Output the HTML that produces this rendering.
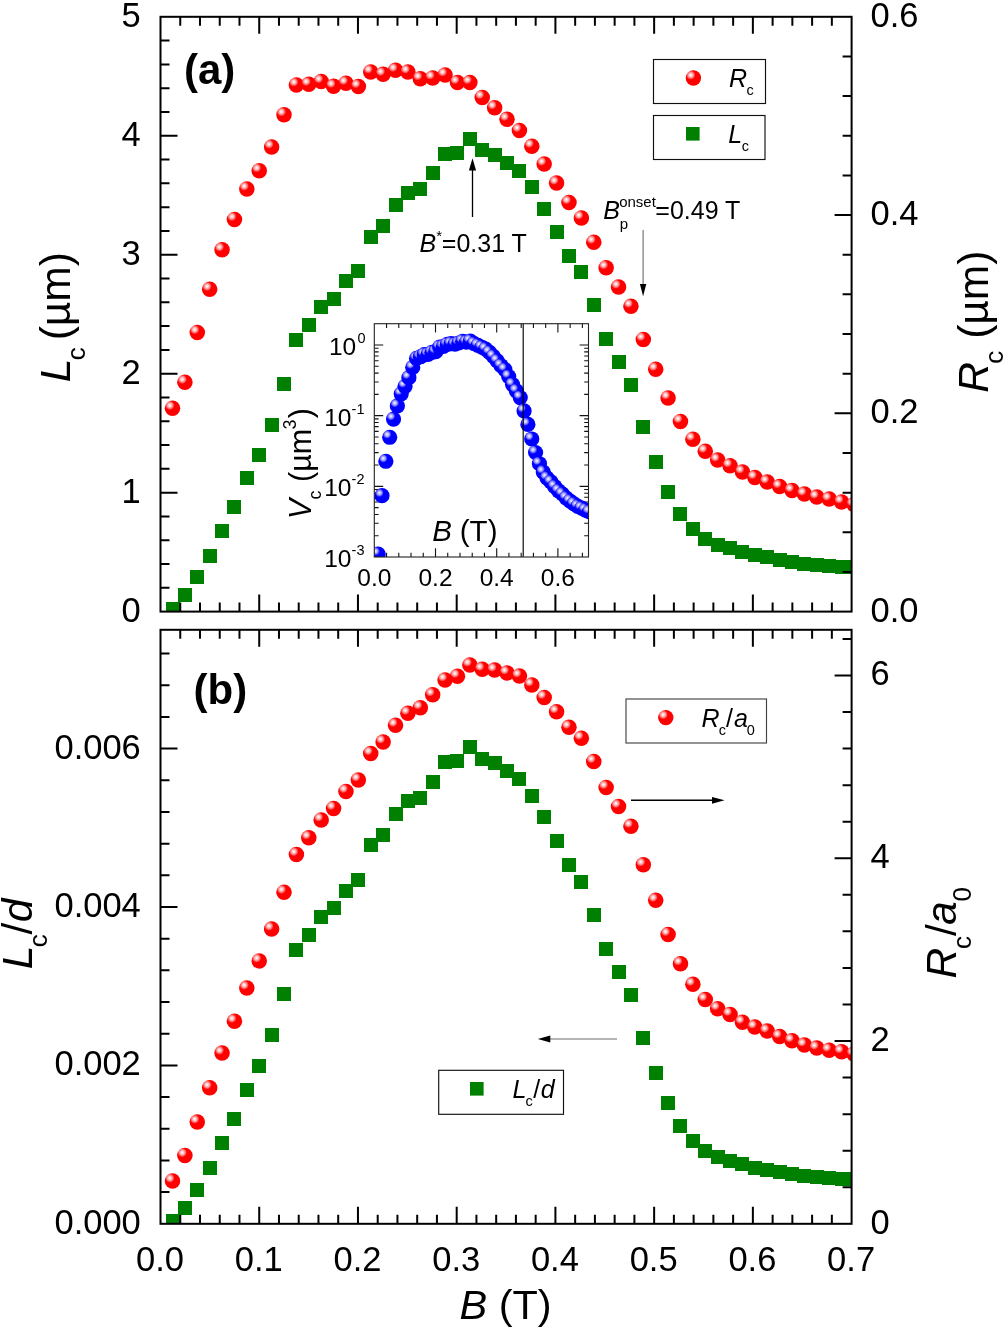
<!DOCTYPE html><html><head><meta charset="utf-8"><style>
html,body{margin:0;padding:0;background:#fff;width:1004px;height:1329px;overflow:hidden}
svg{display:block;will-change:transform}
text{font-family:"Liberation Sans", sans-serif;fill:#000}
</style></head><body>
<svg width="1004" height="1329" viewBox="0 0 1004 1329">
<defs>
<radialGradient id="gr" cx="0.33" cy="0.31" r="0.44">
<stop offset="0" stop-color="#fff"/><stop offset="0.08" stop-color="#fff2f2"/><stop offset="0.3" stop-color="#ffb4b4"/><stop offset="0.5" stop-color="#ff6464"/><stop offset="0.68" stop-color="#ff0000"/><stop offset="1" stop-color="#f00"/>
</radialGradient>
<radialGradient id="gb" cx="0.33" cy="0.31" r="0.44">
<stop offset="0" stop-color="#f4f4ff"/><stop offset="0.12" stop-color="#dcdcff"/><stop offset="0.38" stop-color="#8a8aff"/><stop offset="0.64" stop-color="#0000ff"/><stop offset="1" stop-color="#00f"/>
</radialGradient>
<clipPath id="clipA"><rect x="160.5" y="16.8" width="691.1" height="594.8000000000001"/></clipPath>
<clipPath id="clipB"><rect x="160.5" y="629.8" width="691.1" height="594.0"/></clipPath>
<clipPath id="clipI"><rect x="374.3" y="323.8" width="214.2" height="233.2"/></clipPath>
</defs>
<rect width="1004" height="1329" fill="#fff"/>

<g clip-path="url(#clipA)">
<rect x="166" y="602" width="14" height="14" fill="#008000"/>
<rect x="178" y="588" width="14" height="14" fill="#008000"/>
<rect x="190" y="570" width="14" height="14" fill="#008000"/>
<rect x="203" y="549" width="14" height="14" fill="#008000"/>
<rect x="215" y="524" width="14" height="14" fill="#008000"/>
<rect x="227" y="500" width="14" height="14" fill="#008000"/>
<rect x="240" y="471" width="14" height="14" fill="#008000"/>
<rect x="252" y="448" width="14" height="14" fill="#008000"/>
<rect x="265" y="418" width="14" height="14" fill="#008000"/>
<rect x="277" y="377" width="14" height="14" fill="#008000"/>
<rect x="289" y="333" width="14" height="14" fill="#008000"/>
<rect x="302" y="318" width="14" height="14" fill="#008000"/>
<rect x="314" y="300" width="14" height="14" fill="#008000"/>
<rect x="327" y="292" width="14" height="14" fill="#008000"/>
<rect x="339" y="274" width="14" height="14" fill="#008000"/>
<rect x="351" y="264" width="14" height="14" fill="#008000"/>
<rect x="364" y="230" width="14" height="14" fill="#008000"/>
<rect x="376" y="219" width="14" height="14" fill="#008000"/>
<rect x="389" y="198" width="14" height="14" fill="#008000"/>
<rect x="401" y="186" width="14" height="14" fill="#008000"/>
<rect x="413" y="182" width="14" height="14" fill="#008000"/>
<rect x="426" y="166" width="14" height="14" fill="#008000"/>
<rect x="438" y="147" width="14" height="14" fill="#008000"/>
<rect x="450" y="146" width="14" height="14" fill="#008000"/>
<rect x="463" y="132" width="14" height="14" fill="#008000"/>
<rect x="475" y="143" width="14" height="14" fill="#008000"/>
<rect x="488" y="148" width="14" height="14" fill="#008000"/>
<rect x="500" y="156" width="14" height="14" fill="#008000"/>
<rect x="512" y="164" width="14" height="14" fill="#008000"/>
<rect x="525" y="180" width="14" height="14" fill="#008000"/>
<rect x="537" y="202" width="14" height="14" fill="#008000"/>
<rect x="550" y="225" width="14" height="14" fill="#008000"/>
<rect x="562" y="249" width="14" height="14" fill="#008000"/>
<rect x="574" y="265" width="14" height="14" fill="#008000"/>
<rect x="587" y="298" width="14" height="14" fill="#008000"/>
<rect x="599" y="332" width="14" height="14" fill="#008000"/>
<rect x="612" y="355" width="14" height="14" fill="#008000"/>
<rect x="624" y="378" width="14" height="14" fill="#008000"/>
<rect x="636" y="420" width="14" height="14" fill="#008000"/>
<rect x="649" y="455" width="14" height="14" fill="#008000"/>
<rect x="661" y="485" width="14" height="14" fill="#008000"/>
<rect x="673" y="507" width="14" height="14" fill="#008000"/>
<rect x="686" y="522" width="14" height="14" fill="#008000"/>
<rect x="698" y="532" width="14" height="14" fill="#008000"/>
<rect x="711" y="538" width="14" height="14" fill="#008000"/>
<rect x="723" y="541" width="14" height="14" fill="#008000"/>
<rect x="735" y="545" width="14" height="14" fill="#008000"/>
<rect x="748" y="548" width="14" height="14" fill="#008000"/>
<rect x="760" y="550" width="14" height="14" fill="#008000"/>
<rect x="773" y="553" width="14" height="14" fill="#008000"/>
<rect x="785" y="555" width="14" height="14" fill="#008000"/>
<rect x="797" y="557" width="14" height="14" fill="#008000"/>
<rect x="810" y="558" width="14" height="14" fill="#008000"/>
<rect x="822" y="559" width="14" height="14" fill="#008000"/>
<rect x="835" y="560" width="14" height="14" fill="#008000"/>
<rect x="847" y="560" width="14" height="14" fill="#008000"/>
<circle cx="172.50" cy="408.30" r="7.75" fill="url(#gr)"/>
<circle cx="184.89" cy="382.30" r="7.75" fill="url(#gr)"/>
<circle cx="197.28" cy="332.50" r="7.75" fill="url(#gr)"/>
<circle cx="209.67" cy="289.30" r="7.75" fill="url(#gr)"/>
<circle cx="222.06" cy="249.80" r="7.75" fill="url(#gr)"/>
<circle cx="234.45" cy="219.40" r="7.75" fill="url(#gr)"/>
<circle cx="246.84" cy="189.00" r="7.75" fill="url(#gr)"/>
<circle cx="259.23" cy="170.70" r="7.75" fill="url(#gr)"/>
<circle cx="271.62" cy="147.00" r="7.75" fill="url(#gr)"/>
<circle cx="284.01" cy="114.70" r="7.75" fill="url(#gr)"/>
<circle cx="296.40" cy="84.90" r="7.75" fill="url(#gr)"/>
<circle cx="308.79" cy="84.30" r="7.75" fill="url(#gr)"/>
<circle cx="321.18" cy="81.50" r="7.75" fill="url(#gr)"/>
<circle cx="333.57" cy="86.30" r="7.75" fill="url(#gr)"/>
<circle cx="345.96" cy="83.30" r="7.75" fill="url(#gr)"/>
<circle cx="358.35" cy="86.50" r="7.75" fill="url(#gr)"/>
<circle cx="370.74" cy="71.90" r="7.75" fill="url(#gr)"/>
<circle cx="383.13" cy="74.30" r="7.75" fill="url(#gr)"/>
<circle cx="395.52" cy="70.30" r="7.75" fill="url(#gr)"/>
<circle cx="407.91" cy="71.90" r="7.75" fill="url(#gr)"/>
<circle cx="420.30" cy="78.70" r="7.75" fill="url(#gr)"/>
<circle cx="432.69" cy="77.90" r="7.75" fill="url(#gr)"/>
<circle cx="445.08" cy="74.90" r="7.75" fill="url(#gr)"/>
<circle cx="457.47" cy="82.50" r="7.75" fill="url(#gr)"/>
<circle cx="469.86" cy="82.50" r="7.75" fill="url(#gr)"/>
<circle cx="482.25" cy="97.40" r="7.75" fill="url(#gr)"/>
<circle cx="494.64" cy="107.80" r="7.75" fill="url(#gr)"/>
<circle cx="507.03" cy="119.30" r="7.75" fill="url(#gr)"/>
<circle cx="519.42" cy="130.50" r="7.75" fill="url(#gr)"/>
<circle cx="531.81" cy="146.20" r="7.75" fill="url(#gr)"/>
<circle cx="544.20" cy="164.10" r="7.75" fill="url(#gr)"/>
<circle cx="556.59" cy="183.10" r="7.75" fill="url(#gr)"/>
<circle cx="568.98" cy="202.60" r="7.75" fill="url(#gr)"/>
<circle cx="581.37" cy="217.90" r="7.75" fill="url(#gr)"/>
<circle cx="593.76" cy="242.20" r="7.75" fill="url(#gr)"/>
<circle cx="606.15" cy="267.70" r="7.75" fill="url(#gr)"/>
<circle cx="618.54" cy="287.00" r="7.75" fill="url(#gr)"/>
<circle cx="630.93" cy="306.20" r="7.75" fill="url(#gr)"/>
<circle cx="643.32" cy="339.40" r="7.75" fill="url(#gr)"/>
<circle cx="655.71" cy="369.30" r="7.75" fill="url(#gr)"/>
<circle cx="668.10" cy="397.90" r="7.75" fill="url(#gr)"/>
<circle cx="680.49" cy="421.40" r="7.75" fill="url(#gr)"/>
<circle cx="692.88" cy="439.20" r="7.75" fill="url(#gr)"/>
<circle cx="705.27" cy="451.30" r="7.75" fill="url(#gr)"/>
<circle cx="717.66" cy="460.10" r="7.75" fill="url(#gr)"/>
<circle cx="730.05" cy="465.70" r="7.75" fill="url(#gr)"/>
<circle cx="742.44" cy="472.00" r="7.75" fill="url(#gr)"/>
<circle cx="754.83" cy="477.60" r="7.75" fill="url(#gr)"/>
<circle cx="767.22" cy="482.00" r="7.75" fill="url(#gr)"/>
<circle cx="779.61" cy="486.60" r="7.75" fill="url(#gr)"/>
<circle cx="792.00" cy="490.60" r="7.75" fill="url(#gr)"/>
<circle cx="804.39" cy="494.10" r="7.75" fill="url(#gr)"/>
<circle cx="816.78" cy="497.10" r="7.75" fill="url(#gr)"/>
<circle cx="829.17" cy="499.10" r="7.75" fill="url(#gr)"/>
<circle cx="841.56" cy="501.90" r="7.75" fill="url(#gr)"/>
<circle cx="853.95" cy="504.50" r="7.75" fill="url(#gr)"/>
</g>
<g clip-path="url(#clipB)">
<rect x="166" y="1214" width="14" height="14" fill="#008000"/>
<rect x="178" y="1201" width="14" height="14" fill="#008000"/>
<rect x="190" y="1183" width="14" height="14" fill="#008000"/>
<rect x="203" y="1161" width="14" height="14" fill="#008000"/>
<rect x="215" y="1136" width="14" height="14" fill="#008000"/>
<rect x="227" y="1112" width="14" height="14" fill="#008000"/>
<rect x="240" y="1083" width="14" height="14" fill="#008000"/>
<rect x="252" y="1059" width="14" height="14" fill="#008000"/>
<rect x="265" y="1028" width="14" height="14" fill="#008000"/>
<rect x="277" y="987" width="14" height="14" fill="#008000"/>
<rect x="289" y="943" width="14" height="14" fill="#008000"/>
<rect x="302" y="928" width="14" height="14" fill="#008000"/>
<rect x="314" y="910" width="14" height="14" fill="#008000"/>
<rect x="327" y="901" width="14" height="14" fill="#008000"/>
<rect x="339" y="884" width="14" height="14" fill="#008000"/>
<rect x="351" y="873" width="14" height="14" fill="#008000"/>
<rect x="364" y="838" width="14" height="14" fill="#008000"/>
<rect x="376" y="828" width="14" height="14" fill="#008000"/>
<rect x="389" y="807" width="14" height="14" fill="#008000"/>
<rect x="401" y="794" width="14" height="14" fill="#008000"/>
<rect x="413" y="791" width="14" height="14" fill="#008000"/>
<rect x="426" y="775" width="14" height="14" fill="#008000"/>
<rect x="438" y="755" width="14" height="14" fill="#008000"/>
<rect x="450" y="754" width="14" height="14" fill="#008000"/>
<rect x="463" y="740" width="14" height="14" fill="#008000"/>
<rect x="475" y="752" width="14" height="14" fill="#008000"/>
<rect x="488" y="756" width="14" height="14" fill="#008000"/>
<rect x="500" y="764" width="14" height="14" fill="#008000"/>
<rect x="512" y="772" width="14" height="14" fill="#008000"/>
<rect x="525" y="789" width="14" height="14" fill="#008000"/>
<rect x="537" y="810" width="14" height="14" fill="#008000"/>
<rect x="550" y="834" width="14" height="14" fill="#008000"/>
<rect x="562" y="858" width="14" height="14" fill="#008000"/>
<rect x="574" y="875" width="14" height="14" fill="#008000"/>
<rect x="587" y="908" width="14" height="14" fill="#008000"/>
<rect x="599" y="942" width="14" height="14" fill="#008000"/>
<rect x="612" y="965" width="14" height="14" fill="#008000"/>
<rect x="624" y="988" width="14" height="14" fill="#008000"/>
<rect x="636" y="1031" width="14" height="14" fill="#008000"/>
<rect x="649" y="1066" width="14" height="14" fill="#008000"/>
<rect x="661" y="1096" width="14" height="14" fill="#008000"/>
<rect x="673" y="1119" width="14" height="14" fill="#008000"/>
<rect x="686" y="1134" width="14" height="14" fill="#008000"/>
<rect x="698" y="1144" width="14" height="14" fill="#008000"/>
<rect x="711" y="1150" width="14" height="14" fill="#008000"/>
<rect x="723" y="1154" width="14" height="14" fill="#008000"/>
<rect x="735" y="1157" width="14" height="14" fill="#008000"/>
<rect x="748" y="1161" width="14" height="14" fill="#008000"/>
<rect x="760" y="1163" width="14" height="14" fill="#008000"/>
<rect x="773" y="1165" width="14" height="14" fill="#008000"/>
<rect x="785" y="1167" width="14" height="14" fill="#008000"/>
<rect x="797" y="1169" width="14" height="14" fill="#008000"/>
<rect x="810" y="1170" width="14" height="14" fill="#008000"/>
<rect x="822" y="1171" width="14" height="14" fill="#008000"/>
<rect x="835" y="1172" width="14" height="14" fill="#008000"/>
<rect x="847" y="1172" width="14" height="14" fill="#008000"/>
<circle cx="172.50" cy="1181.00" r="7.75" fill="url(#gr)"/>
<circle cx="184.89" cy="1155.50" r="7.75" fill="url(#gr)"/>
<circle cx="197.28" cy="1122.00" r="7.75" fill="url(#gr)"/>
<circle cx="209.67" cy="1087.70" r="7.75" fill="url(#gr)"/>
<circle cx="222.06" cy="1053.10" r="7.75" fill="url(#gr)"/>
<circle cx="234.45" cy="1021.20" r="7.75" fill="url(#gr)"/>
<circle cx="246.84" cy="988.00" r="7.75" fill="url(#gr)"/>
<circle cx="259.23" cy="960.90" r="7.75" fill="url(#gr)"/>
<circle cx="271.62" cy="929.00" r="7.75" fill="url(#gr)"/>
<circle cx="284.01" cy="892.20" r="7.75" fill="url(#gr)"/>
<circle cx="296.40" cy="854.50" r="7.75" fill="url(#gr)"/>
<circle cx="308.79" cy="837.80" r="7.75" fill="url(#gr)"/>
<circle cx="321.18" cy="819.90" r="7.75" fill="url(#gr)"/>
<circle cx="333.57" cy="808.40" r="7.75" fill="url(#gr)"/>
<circle cx="345.96" cy="791.40" r="7.75" fill="url(#gr)"/>
<circle cx="358.35" cy="779.90" r="7.75" fill="url(#gr)"/>
<circle cx="370.74" cy="753.60" r="7.75" fill="url(#gr)"/>
<circle cx="383.13" cy="742.00" r="7.75" fill="url(#gr)"/>
<circle cx="395.52" cy="725.30" r="7.75" fill="url(#gr)"/>
<circle cx="407.91" cy="713.30" r="7.75" fill="url(#gr)"/>
<circle cx="420.30" cy="707.80" r="7.75" fill="url(#gr)"/>
<circle cx="432.69" cy="694.80" r="7.75" fill="url(#gr)"/>
<circle cx="445.08" cy="679.90" r="7.75" fill="url(#gr)"/>
<circle cx="457.47" cy="676.30" r="7.75" fill="url(#gr)"/>
<circle cx="469.86" cy="665.00" r="7.75" fill="url(#gr)"/>
<circle cx="482.25" cy="669.30" r="7.75" fill="url(#gr)"/>
<circle cx="494.64" cy="670.10" r="7.75" fill="url(#gr)"/>
<circle cx="507.03" cy="672.90" r="7.75" fill="url(#gr)"/>
<circle cx="519.42" cy="675.90" r="7.75" fill="url(#gr)"/>
<circle cx="531.81" cy="684.90" r="7.75" fill="url(#gr)"/>
<circle cx="544.20" cy="697.40" r="7.75" fill="url(#gr)"/>
<circle cx="556.59" cy="711.80" r="7.75" fill="url(#gr)"/>
<circle cx="568.98" cy="727.30" r="7.75" fill="url(#gr)"/>
<circle cx="581.37" cy="738.20" r="7.75" fill="url(#gr)"/>
<circle cx="593.76" cy="761.60" r="7.75" fill="url(#gr)"/>
<circle cx="606.15" cy="787.50" r="7.75" fill="url(#gr)"/>
<circle cx="618.54" cy="806.40" r="7.75" fill="url(#gr)"/>
<circle cx="630.93" cy="826.30" r="7.75" fill="url(#gr)"/>
<circle cx="643.32" cy="864.80" r="7.75" fill="url(#gr)"/>
<circle cx="655.71" cy="900.30" r="7.75" fill="url(#gr)"/>
<circle cx="668.10" cy="934.50" r="7.75" fill="url(#gr)"/>
<circle cx="680.49" cy="963.80" r="7.75" fill="url(#gr)"/>
<circle cx="692.88" cy="984.30" r="7.75" fill="url(#gr)"/>
<circle cx="705.27" cy="999.60" r="7.75" fill="url(#gr)"/>
<circle cx="717.66" cy="1008.70" r="7.75" fill="url(#gr)"/>
<circle cx="730.05" cy="1014.40" r="7.75" fill="url(#gr)"/>
<circle cx="742.44" cy="1022.30" r="7.75" fill="url(#gr)"/>
<circle cx="754.83" cy="1027.10" r="7.75" fill="url(#gr)"/>
<circle cx="767.22" cy="1031.10" r="7.75" fill="url(#gr)"/>
<circle cx="779.61" cy="1036.60" r="7.75" fill="url(#gr)"/>
<circle cx="792.00" cy="1040.70" r="7.75" fill="url(#gr)"/>
<circle cx="804.39" cy="1045.00" r="7.75" fill="url(#gr)"/>
<circle cx="816.78" cy="1048.10" r="7.75" fill="url(#gr)"/>
<circle cx="829.17" cy="1050.20" r="7.75" fill="url(#gr)"/>
<circle cx="841.56" cy="1051.70" r="7.75" fill="url(#gr)"/>
<circle cx="853.95" cy="1054.00" r="7.75" fill="url(#gr)"/>
</g>
<rect x="160.50" y="16.80" width="691.10" height="594.80" fill="none" stroke="#000" stroke-width="2"/>
<path d="M180.25 611.60V602.60M180.25 16.80V25.80M199.99 611.60V602.60M199.99 16.80V25.80M219.74 611.60V602.60M219.74 16.80V25.80M239.48 611.60V602.60M239.48 16.80V25.80M259.23 611.60V594.60M259.23 16.80V33.80M278.97 611.60V602.60M278.97 16.80V25.80M298.72 611.60V602.60M298.72 16.80V25.80M318.47 611.60V602.60M318.47 16.80V25.80M338.21 611.60V602.60M338.21 16.80V25.80M357.96 611.60V594.60M357.96 16.80V33.80M377.70 611.60V602.60M377.70 16.80V25.80M397.45 611.60V602.60M397.45 16.80V25.80M417.19 611.60V602.60M417.19 16.80V25.80M436.94 611.60V602.60M436.94 16.80V25.80M456.69 611.60V594.60M456.69 16.80V33.80M476.43 611.60V602.60M476.43 16.80V25.80M496.18 611.60V602.60M496.18 16.80V25.80M515.92 611.60V602.60M515.92 16.80V25.80M535.67 611.60V602.60M535.67 16.80V25.80M555.41 611.60V594.60M555.41 16.80V33.80M575.16 611.60V602.60M575.16 16.80V25.80M594.91 611.60V602.60M594.91 16.80V25.80M614.65 611.60V602.60M614.65 16.80V25.80M634.40 611.60V602.60M634.40 16.80V25.80M654.14 611.60V594.60M654.14 16.80V33.80M673.89 611.60V602.60M673.89 16.80V25.80M693.63 611.60V602.60M693.63 16.80V25.80M713.38 611.60V602.60M713.38 16.80V25.80M733.13 611.60V602.60M733.13 16.80V25.80M752.87 611.60V594.60M752.87 16.80V33.80M772.62 611.60V602.60M772.62 16.80V25.80M792.36 611.60V602.60M792.36 16.80V25.80M812.11 611.60V602.60M812.11 16.80V25.80M831.85 611.60V602.60M831.85 16.80V25.80" stroke="#000" stroke-width="2" fill="none"/>
<path d="M160.50 587.81H169.50M160.50 564.02H169.50M160.50 540.22H169.50M160.50 516.43H169.50M160.50 492.64H177.50M160.50 468.85H169.50M160.50 445.06H169.50M160.50 421.26H169.50M160.50 397.47H169.50M160.50 373.68H177.50M160.50 349.89H169.50M160.50 326.10H169.50M160.50 302.30H169.50M160.50 278.51H169.50M160.50 254.72H177.50M160.50 230.93H169.50M160.50 207.14H169.50M160.50 183.34H169.50M160.50 159.55H169.50M160.50 135.76H177.50M160.50 111.97H169.50M160.50 88.18H169.50M160.50 64.38H169.50M160.50 40.59H169.50" stroke="#000" stroke-width="2" fill="none"/>
<path d="M851.60 571.95H842.60M851.60 532.29H842.60M851.60 492.64H842.60M851.60 452.99H842.60M851.60 413.33H834.60M851.60 373.68H842.60M851.60 334.03H842.60M851.60 294.37H842.60M851.60 254.72H842.60M851.60 215.07H834.60M851.60 175.41H842.60M851.60 135.76H842.60M851.60 96.11H842.60M851.60 56.45H842.60" stroke="#000" stroke-width="2" fill="none"/>
<rect x="160.50" y="629.80" width="691.10" height="594.00" fill="none" stroke="#000" stroke-width="2"/>
<path d="M180.25 1223.80V1214.80M180.25 629.80V638.80M199.99 1223.80V1214.80M199.99 629.80V638.80M219.74 1223.80V1214.80M219.74 629.80V638.80M239.48 1223.80V1214.80M239.48 629.80V638.80M259.23 1223.80V1206.80M259.23 629.80V646.80M278.97 1223.80V1214.80M278.97 629.80V638.80M298.72 1223.80V1214.80M298.72 629.80V638.80M318.47 1223.80V1214.80M318.47 629.80V638.80M338.21 1223.80V1214.80M338.21 629.80V638.80M357.96 1223.80V1206.80M357.96 629.80V646.80M377.70 1223.80V1214.80M377.70 629.80V638.80M397.45 1223.80V1214.80M397.45 629.80V638.80M417.19 1223.80V1214.80M417.19 629.80V638.80M436.94 1223.80V1214.80M436.94 629.80V638.80M456.69 1223.80V1206.80M456.69 629.80V646.80M476.43 1223.80V1214.80M476.43 629.80V638.80M496.18 1223.80V1214.80M496.18 629.80V638.80M515.92 1223.80V1214.80M515.92 629.80V638.80M535.67 1223.80V1214.80M535.67 629.80V638.80M555.41 1223.80V1206.80M555.41 629.80V646.80M575.16 1223.80V1214.80M575.16 629.80V638.80M594.91 1223.80V1214.80M594.91 629.80V638.80M614.65 1223.80V1214.80M614.65 629.80V638.80M634.40 1223.80V1214.80M634.40 629.80V638.80M654.14 1223.80V1206.80M654.14 629.80V646.80M673.89 1223.80V1214.80M673.89 629.80V638.80M693.63 1223.80V1214.80M693.63 629.80V638.80M713.38 1223.80V1214.80M713.38 629.80V638.80M733.13 1223.80V1214.80M733.13 629.80V638.80M752.87 1223.80V1206.80M752.87 629.80V646.80M772.62 1223.80V1214.80M772.62 629.80V638.80M792.36 1223.80V1214.80M792.36 629.80V638.80M812.11 1223.80V1214.80M812.11 629.80V638.80M831.85 1223.80V1214.80M831.85 629.80V638.80" stroke="#000" stroke-width="2" fill="none"/>
<path d="M160.50 1192.12H169.50M160.50 1160.44H169.50M160.50 1128.76H169.50M160.50 1097.08H169.50M160.50 1065.40H177.50M160.50 1033.72H169.50M160.50 1002.04H169.50M160.50 970.36H169.50M160.50 938.68H169.50M160.50 907.00H177.50M160.50 875.32H169.50M160.50 843.64H169.50M160.50 811.96H169.50M160.50 780.28H169.50M160.50 748.60H177.50M160.50 716.92H169.50M160.50 685.24H169.50M160.50 653.56H169.50" stroke="#000" stroke-width="2" fill="none"/>
<path d="M851.60 1187.25H842.60M851.60 1150.69H842.60M851.60 1114.14H842.60M851.60 1077.58H842.60M851.60 1041.03H834.60M851.60 1004.48H842.60M851.60 967.92H842.60M851.60 931.37H842.60M851.60 894.82H842.60M851.60 858.26H834.60M851.60 821.71H842.60M851.60 785.15H842.60M851.60 748.60H842.60M851.60 712.05H842.60M851.60 675.49H834.60M851.60 638.94H842.60" stroke="#000" stroke-width="2" fill="none"/>
<text x="140.80" y="621.60" font-size="34.5" text-anchor="end" >0</text>
<text x="140.80" y="502.64" font-size="34.5" text-anchor="end" >1</text>
<text x="140.80" y="383.68" font-size="34.5" text-anchor="end" >2</text>
<text x="140.80" y="264.72" font-size="34.5" text-anchor="end" >3</text>
<text x="140.80" y="145.76" font-size="34.5" text-anchor="end" >4</text>
<text x="140.80" y="26.80" font-size="34.5" text-anchor="end" >5</text>
<text x="870.50" y="621.60" font-size="34.5" text-anchor="start" >0.0</text>
<text x="870.50" y="423.33" font-size="34.5" text-anchor="start" >0.2</text>
<text x="870.50" y="225.07" font-size="34.5" text-anchor="start" >0.4</text>
<text x="870.50" y="26.80" font-size="34.5" text-anchor="start" >0.6</text>
<text x="140.80" y="1233.80" font-size="34.5" text-anchor="end" >0.000</text>
<text x="140.80" y="1075.40" font-size="34.5" text-anchor="end" >0.002</text>
<text x="140.80" y="917.00" font-size="34.5" text-anchor="end" >0.004</text>
<text x="140.80" y="758.60" font-size="34.5" text-anchor="end" >0.006</text>
<text x="870.50" y="1233.80" font-size="34.5" text-anchor="start" >0</text>
<text x="870.50" y="1051.03" font-size="34.5" text-anchor="start" >2</text>
<text x="870.50" y="868.26" font-size="34.5" text-anchor="start" >4</text>
<text x="870.50" y="685.49" font-size="34.5" text-anchor="start" >6</text>
<text x="160.00" y="1270.50" font-size="34.5" text-anchor="middle" >0.0</text>
<text x="258.73" y="1270.50" font-size="34.5" text-anchor="middle" >0.1</text>
<text x="357.46" y="1270.50" font-size="34.5" text-anchor="middle" >0.2</text>
<text x="456.19" y="1270.50" font-size="34.5" text-anchor="middle" >0.3</text>
<text x="554.91" y="1270.50" font-size="34.5" text-anchor="middle" >0.4</text>
<text x="653.64" y="1270.50" font-size="34.5" text-anchor="middle" >0.5</text>
<text x="752.37" y="1270.50" font-size="34.5" text-anchor="middle" >0.6</text>
<text x="851.10" y="1270.50" font-size="34.5" text-anchor="middle" >0.7</text>
<text x="505.60" y="1318.70" font-size="41.5" text-anchor="middle" ><tspan font-style="italic">B</tspan> (T)</text>
<g transform="translate(70,382.2) rotate(-90)"><text x="0" y="0" font-size="42.5" font-style="italic">L</text><text x="22" y="15" font-size="26">c</text><text x="41.9" y="0" font-size="42.5">(µm)</text></g>
<g transform="translate(987.6,392.7) rotate(-90)"><text x="0" y="0" font-size="42.5" font-style="italic">R</text><text x="28.9" y="15" font-size="26">c</text><text x="53.9" y="0" font-size="42.5">(µm)</text></g>
<g transform="translate(32.4,969.3) rotate(-90)"><text x="0" y="0" font-size="42.5" font-style="italic">L</text><text x="22" y="15" font-size="26">c</text><text x="34.8" y="0" font-size="42.5">/</text><text x="47" y="0" font-size="42.5" font-style="italic">d</text></g>
<g transform="translate(956,978.4) rotate(-90)"><text x="0" y="0" font-size="42.5" font-style="italic">R</text><text x="29.5" y="15" font-size="26">c</text><text x="42.4" y="0" font-size="42.5">/</text><text x="53.4" y="0" font-size="42.5" font-style="italic">a</text><text x="76.8" y="15" font-size="26">0</text></g>
<text x="184.00" y="84.00" font-size="42" text-anchor="start" font-weight="bold">(a)</text>
<text x="193.50" y="704.00" font-size="42" text-anchor="start" font-weight="bold">(b)</text>
<rect x="653.5" y="59.5" width="112" height="44" fill="#fff" stroke="#111" stroke-width="1.15"/>
<circle cx="693.40" cy="78.00" r="7.7" fill="url(#gr)"/>
<text x="729" y="86.5" font-size="25" font-style="italic">R</text><text x="746.6" y="95.3" font-size="14.5">c</text>
<rect x="653.5" y="115.5" width="111.5" height="44" fill="#fff" stroke="#111" stroke-width="1.15"/>
<rect x="686" y="127" width="13.6" height="13.6" fill="#008000"/>
<text x="728.3" y="142.7" font-size="25" font-style="italic">L</text><text x="741.7" y="151.4" font-size="14.5">c</text>
<rect x="626" y="699" width="140.5" height="44" fill="#fff" stroke="#444" stroke-width="1.15"/>
<circle cx="665.80" cy="717.60" r="7.7" fill="url(#gr)"/>
<text x="701.5" y="726.5" font-size="25" font-style="italic">R</text><text x="718.8" y="734.9" font-size="14.5">c</text><text x="726" y="726.5" font-size="25">/</text><text x="733.9" y="726.5" font-size="25" font-style="italic">a</text><text x="746.7" y="735" font-size="14.5">0</text>
<rect x="438.7" y="1070.3" width="124.8" height="44" fill="#fff" stroke="#111" stroke-width="1.15"/>
<rect x="470" y="1082" width="13.6" height="13.6" fill="#008000"/>
<text x="512.6" y="1097.7" font-size="25" font-style="italic">L</text><text x="525.6" y="1106.2" font-size="14.5">c</text><text x="533.2" y="1097.7" font-size="25">/</text><text x="540.8" y="1097.7" font-size="25" font-style="italic">d</text>
<line x1="472.50" y1="217.00" x2="472.50" y2="169.50" stroke="#000" stroke-width="1.3"/>
<path d="M472.50 158.30L476.10 170.50L468.90 170.50Z" fill="#000"/>
<line x1="643.10" y1="230.00" x2="643.10" y2="285.00" stroke="#6a6a6a" stroke-width="1.1"/>
<path d="M643.10 296.30L639.90 284.00L646.30 284.00Z" fill="#000"/>
<line x1="631.00" y1="800.30" x2="713.00" y2="800.30" stroke="#000" stroke-width="1.4"/>
<path d="M724.60 800.30L712.00 803.70L712.00 796.90Z" fill="#000"/>
<line x1="617.00" y1="1039.00" x2="549.30" y2="1039.00" stroke="#6a6a6a" stroke-width="1.1"/>
<path d="M537.80 1039.00L550.30 1035.60L550.30 1042.40Z" fill="#000"/>
<text x="419.6" y="252" font-size="25" font-style="italic">B</text>
<text x="436.3" y="241.3" font-size="15">*</text>
<text x="441.8" y="252" font-size="25">=0.31 T</text>
<text x="603.2" y="219.2" font-size="25" font-style="italic">B</text>
<text x="619.2" y="207.2" font-size="15">onset</text>
<text x="619.7" y="228.5" font-size="15">p</text>
<text x="655.3" y="219.2" font-size="25">=0.49 T</text>
<rect x="374.3" y="323.7" width="214.2" height="233.3" fill="#fff"/>
<path d="M386.54 557.0V552.80M386.54 323.7V327.90M398.78 557.0V552.80M398.78 323.7V327.90M411.02 557.0V552.80M411.02 323.7V327.90M423.26 557.0V552.80M423.26 323.7V327.90M435.50 557.0V548.30M435.50 323.7V332.40M447.74 557.0V552.80M447.74 323.7V327.90M459.98 557.0V552.80M459.98 323.7V327.90M472.22 557.0V552.80M472.22 323.7V327.90M484.46 557.0V552.80M484.46 323.7V327.90M496.70 557.0V548.30M496.70 323.7V332.40M508.94 557.0V552.80M508.94 323.7V327.90M521.18 557.0V552.80M521.18 323.7V327.90M533.42 557.0V552.80M533.42 323.7V327.90M545.66 557.0V552.80M545.66 323.7V327.90M557.90 557.0V548.30M557.90 323.7V332.40M570.14 557.0V552.80M570.14 323.7V327.90M582.38 557.0V552.80M582.38 323.7V327.90M374.3 535.73H378.60M588.5 535.73H584.20M374.3 523.28H378.60M588.5 523.28H584.20M374.3 514.45H378.60M588.5 514.45H584.20M374.3 507.61H378.60M588.5 507.61H584.20M374.3 502.01H378.60M588.5 502.01H584.20M374.3 497.28H378.60M588.5 497.28H584.20M374.3 493.18H378.60M588.5 493.18H584.20M374.3 489.57H378.60M588.5 489.57H584.20M374.3 486.33H383.20M588.5 486.33H579.60M374.3 465.06H378.60M588.5 465.06H584.20M374.3 452.62H378.60M588.5 452.62H584.20M374.3 443.79H378.60M588.5 443.79H584.20M374.3 436.94H378.60M588.5 436.94H584.20M374.3 431.34H378.60M588.5 431.34H584.20M374.3 426.61H378.60M588.5 426.61H584.20M374.3 422.51H378.60M588.5 422.51H584.20M374.3 418.90H378.60M588.5 418.90H584.20M374.3 415.67H383.20M588.5 415.67H579.60M374.3 394.39H378.60M588.5 394.39H584.20M374.3 381.95H378.60M588.5 381.95H584.20M374.3 373.12H378.60M588.5 373.12H584.20M374.3 366.27H378.60M588.5 366.27H584.20M374.3 360.68H378.60M588.5 360.68H584.20M374.3 355.95H378.60M588.5 355.95H584.20M374.3 351.85H378.60M588.5 351.85H584.20M374.3 348.23H378.60M588.5 348.23H584.20M374.3 345.00H383.20M588.5 345.00H579.60" stroke="#111" stroke-width="1.1" fill="none"/>
<g clip-path="url(#clipI)">
<circle cx="378.17" cy="554.00" r="7.6" fill="url(#gb)"/>
<circle cx="382.01" cy="495.71" r="7.6" fill="url(#gb)"/>
<circle cx="385.85" cy="461.26" r="7.6" fill="url(#gb)"/>
<circle cx="389.69" cy="437.27" r="7.6" fill="url(#gb)"/>
<circle cx="393.53" cy="419.06" r="7.6" fill="url(#gb)"/>
<circle cx="397.37" cy="405.90" r="7.6" fill="url(#gb)"/>
<circle cx="401.21" cy="393.82" r="7.6" fill="url(#gb)"/>
<circle cx="405.05" cy="386.28" r="7.6" fill="url(#gb)"/>
<circle cx="408.89" cy="377.67" r="7.6" fill="url(#gb)"/>
<circle cx="412.73" cy="367.45" r="7.6" fill="url(#gb)"/>
<circle cx="416.57" cy="358.45" r="7.6" fill="url(#gb)"/>
<circle cx="420.41" cy="356.77" r="7.6" fill="url(#gb)"/>
<circle cx="424.25" cy="354.62" r="7.6" fill="url(#gb)"/>
<circle cx="428.08" cy="354.30" r="7.6" fill="url(#gb)"/>
<circle cx="431.92" cy="352.26" r="7.6" fill="url(#gb)"/>
<circle cx="435.76" cy="351.71" r="7.6" fill="url(#gb)"/>
<circle cx="439.60" cy="347.11" r="7.6" fill="url(#gb)"/>
<circle cx="443.44" cy="346.48" r="7.6" fill="url(#gb)"/>
<circle cx="447.28" cy="344.46" r="7.6" fill="url(#gb)"/>
<circle cx="451.12" cy="343.72" r="7.6" fill="url(#gb)"/>
<circle cx="454.96" cy="344.21" r="7.6" fill="url(#gb)"/>
<circle cx="458.80" cy="343.00" r="7.6" fill="url(#gb)"/>
<circle cx="462.64" cy="341.29" r="7.6" fill="url(#gb)"/>
<circle cx="466.48" cy="342.10" r="7.6" fill="url(#gb)"/>
<circle cx="470.32" cy="341.18" r="7.6" fill="url(#gb)"/>
<circle cx="474.16" cy="343.65" r="7.6" fill="url(#gb)"/>
<circle cx="478.00" cy="345.27" r="7.6" fill="url(#gb)"/>
<circle cx="481.84" cy="347.23" r="7.6" fill="url(#gb)"/>
<circle cx="485.67" cy="349.16" r="7.6" fill="url(#gb)"/>
<circle cx="489.51" cy="352.41" r="7.6" fill="url(#gb)"/>
<circle cx="493.35" cy="356.40" r="7.6" fill="url(#gb)"/>
<circle cx="497.19" cy="360.86" r="7.6" fill="url(#gb)"/>
<circle cx="501.03" cy="365.73" r="7.6" fill="url(#gb)"/>
<circle cx="504.87" cy="369.53" r="7.6" fill="url(#gb)"/>
<circle cx="508.71" cy="376.56" r="7.6" fill="url(#gb)"/>
<circle cx="512.55" cy="384.54" r="7.6" fill="url(#gb)"/>
<circle cx="516.39" cy="390.79" r="7.6" fill="url(#gb)"/>
<circle cx="520.23" cy="397.54" r="7.6" fill="url(#gb)"/>
<circle cx="524.07" cy="410.89" r="7.6" fill="url(#gb)"/>
<circle cx="527.91" cy="424.42" r="7.6" fill="url(#gb)"/>
<circle cx="531.75" cy="438.99" r="7.6" fill="url(#gb)"/>
<circle cx="535.59" cy="452.50" r="7.6" fill="url(#gb)"/>
<circle cx="539.43" cy="463.74" r="7.6" fill="url(#gb)"/>
<circle cx="543.26" cy="472.11" r="7.6" fill="url(#gb)"/>
<circle cx="547.10" cy="478.18" r="7.6" fill="url(#gb)"/>
<circle cx="550.94" cy="481.96" r="7.6" fill="url(#gb)"/>
<circle cx="554.78" cy="486.68" r="7.6" fill="url(#gb)"/>
<circle cx="558.62" cy="490.84" r="7.6" fill="url(#gb)"/>
<circle cx="562.46" cy="494.00" r="7.6" fill="url(#gb)"/>
<circle cx="566.30" cy="498.02" r="7.6" fill="url(#gb)"/>
<circle cx="570.14" cy="501.06" r="7.6" fill="url(#gb)"/>
<circle cx="573.98" cy="503.93" r="7.6" fill="url(#gb)"/>
<circle cx="577.82" cy="506.37" r="7.6" fill="url(#gb)"/>
<circle cx="581.66" cy="508.19" r="7.6" fill="url(#gb)"/>
<circle cx="585.50" cy="510.08" r="7.6" fill="url(#gb)"/>
<circle cx="589.34" cy="511.90" r="7.6" fill="url(#gb)"/>
</g>
<line x1="523.2" y1="323.7" x2="523.2" y2="557.0" stroke="#000" stroke-width="1.15"/>
<rect x="374.3" y="323.7" width="214.2" height="233.3" fill="none" stroke="#222" stroke-width="1.1"/>
<text x="374.30" y="586.00" font-size="24.5" text-anchor="middle" >0.0</text>
<text x="435.50" y="586.00" font-size="24.5" text-anchor="middle" >0.2</text>
<text x="496.70" y="586.00" font-size="24.5" text-anchor="middle" >0.4</text>
<text x="557.90" y="586.00" font-size="24.5" text-anchor="middle" >0.6</text>
<text x="324.2" y="567.00" font-size="24.5">10</text>
<text x="351.6" y="555.00" font-size="14.5">-3</text>
<text x="324.2" y="496.33" font-size="24.5">10</text>
<text x="351.6" y="484.33" font-size="14.5">-2</text>
<text x="324.2" y="425.67" font-size="24.5">10</text>
<text x="351.6" y="413.67" font-size="14.5">-1</text>
<text x="328.9" y="355.00" font-size="24.5">10</text>
<text x="357.6" y="343.30" font-size="14.5">0</text>
<text x="432.3" y="541.3" font-size="29.5" font-style="italic">B</text><text x="459.8" y="541.3" font-size="29.5">(T)</text>
<g transform="translate(311,519.3) rotate(-90)"><text x="0" y="0" font-size="30.5" font-style="italic">V</text><text x="19.7" y="10" font-size="18">c</text><text x="37.3" y="0" font-size="30.5">(µm</text><text x="89.7" y="-15.3" font-size="18">3</text><text x="101" y="0" font-size="30.5">)</text></g>
</svg></body></html>
